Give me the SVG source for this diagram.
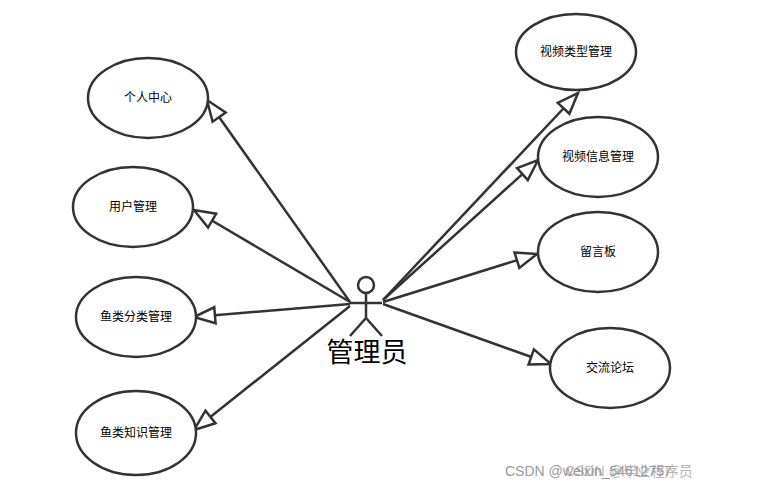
<svg xmlns="http://www.w3.org/2000/svg" width="758" height="492" viewBox="0 0 758 492">
<style>
.n ellipse{fill:#fff;stroke:#333;stroke-width:2.5}
.n text{font-family:"Noto Sans CJK SC","Liberation Sans",sans-serif;font-size:12px;fill:#000;text-anchor:middle}
.c line{stroke:#333;stroke-width:2.5;marker-end:url(#a)}
.wm{font-family:"Liberation Sans","Noto Sans CJK SC",sans-serif;font-size:14px;fill:#999}
</style>
<defs><marker id="a" markerUnits="userSpaceOnUse" markerWidth="26" markerHeight="22" refX="23" refY="10" orient="auto" viewBox="0 0 26 22"><path d="M2,2 L23,10 L2,18 Z" fill="#fff" stroke="#333" stroke-width="2.5"/></marker></defs>
<rect width="758" height="492" fill="#fff"/>
<g class="c">
<line x1="350" y1="302" x2="207" y2="100"/>
<line x1="350" y1="302" x2="194" y2="210"/>
<line x1="350" y1="304" x2="194" y2="317"/>
<line x1="350" y1="306" x2="194" y2="430"/>
<line x1="383" y1="300" x2="578" y2="93"/>
<line x1="383" y1="300" x2="538" y2="160"/>
<line x1="383" y1="302" x2="537" y2="254"/>
<line x1="383" y1="304" x2="551" y2="364"/>
</g>
<g id="actor" fill="none" stroke="#333" stroke-width="2.5">
<circle cx="366" cy="285" r="8"/>
<line x1="366" y1="293" x2="366" y2="318"/>
<line x1="350" y1="303" x2="382" y2="303"/>
<line x1="366" y1="318" x2="350" y2="336"/>
<line x1="366" y1="318" x2="382" y2="336"/>
<text x="367" y="362" stroke="none" fill="#000" font-family="Noto Sans CJK SC,sans-serif" font-size="27" text-anchor="middle">管理员</text>
</g>
<g id="n1" class="n"><ellipse cx="148" cy="98" rx="60" ry="40"/><text x="148" y="102">个人中心</text></g>
<g id="n2" class="n"><ellipse cx="133" cy="207" rx="60" ry="40"/><text x="133" y="211">用户管理</text></g>
<g id="n3" class="n"><ellipse cx="136" cy="317" rx="60" ry="40"/><text x="136" y="321">鱼类分类管理</text></g>
<g id="n4" class="n"><ellipse cx="136" cy="433" rx="60" ry="42"/><text x="136" y="437">鱼类知识管理</text></g>
<g id="n5" class="n"><ellipse cx="576" cy="52" rx="60" ry="38"/><text x="576" y="56">视频类型管理</text></g>
<g id="n6" class="n"><ellipse cx="598" cy="157" rx="60" ry="40"/><text x="598" y="161">视频信息管理</text></g>
<g id="n7" class="n"><ellipse cx="598" cy="252" rx="60" ry="40"/><text x="598" y="256">留言板</text></g>
<g id="n8" class="n"><ellipse cx="610" cy="368" rx="60" ry="40"/><text x="610" y="372">交流论坛</text></g>
<text class="wm" x="505" y="476">CSDN @weixin_54612757</text>
<text class="wm" x="565" y="476" opacity="0.7">CSDN @毕业程序员</text>
</svg>
